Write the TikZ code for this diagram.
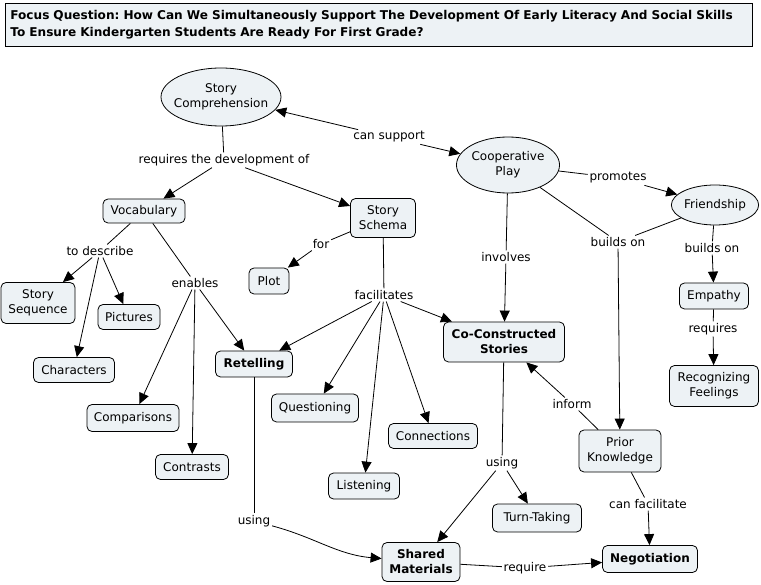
\documentclass[tikz,border=0pt]{standalone}
\usepackage{fontspec}
\setmainfont{DejaVu Sans}
\usetikzlibrary{positioning,arrows.meta,shapes.geometric}
\definecolor{cfill}{HTML}{EDF2F5}
\definecolor{ink}{HTML}{000000}
\frenchspacing

\begin{document}
\begin{tikzpicture}[x=1pt, y=-1pt, >={Triangle[length=11pt,width=10pt]},
    font=\fontsize{12}{15}\selectfont, line width=0.8pt, draw=ink,
    concept/.style={draw, fill=cfill, rounded corners=5pt, align=center, inner sep=2pt},
    oval/.style={draw, fill=cfill, ellipse, align=center, inner sep=0pt},
    key/.style={concept, font=\fontsize{12}{15}\selectfont\bfseries},
    link/.style={inner sep=1.5pt}]
  \useasboundingbox (0,0) rectangle (761,585);
  % focus question
  \node[draw, fill=cfill, anchor=north west, minimum width=747pt, minimum height=43pt,
    text width=737pt, inner sep=5pt, align=left,
    font=\fontsize{12.1}{17}\selectfont\bfseries] (focus) at (5,3)
    {Focus Question: How Can We Simultaneously Support The Development Of Early Literacy And Social Skills\\
     To Ensure Kindergarten Students Are Ready For First Grade?};
  % concepts
  \node[oval, inner xsep=-5pt, minimum width=120, minimum height=58] (storycomp) at (221,97) {Story\\Comprehension};
  \node[oval, minimum width=100, minimum height=56] (coop) at (508,165) {Cooperative\\Play};
  \node[oval, minimum width=81, minimum height=40] (friend) at (715,205) {Friendship};
  \node[concept, minimum width=82, minimum height=24] (vocab) at (144,211) {Vocabulary};
  \node[concept, minimum width=65, minimum height=39] (schema) at (383,218) {Story\\Schema};
  \node[concept, minimum width=40, minimum height=26] (plot) at (269,281) {Plot};
  \node[concept, minimum width=74, minimum height=41] (sequence) at (38,303) {Story\\Sequence};
  \node[concept, minimum width=62, minimum height=25] (pictures) at (129,317) {Pictures};
  \node[concept, minimum width=81, minimum height=25] (characters) at (74,370) {Characters};
  \node[concept, minimum width=92, minimum height=27] (compare) at (133,418) {Comparisons};
  \node[concept, minimum width=73, minimum height=25] (contrast) at (192,467) {Contrasts};
  \node[key, minimum width=77, minimum height=26] (retell) at (254,364) {Retelling};
  \node[concept, minimum width=87, minimum height=28] (question) at (315,408) {Questioning};
  \node[concept, minimum width=89, minimum height=25] (connect) at (433,436) {Connections};
  \node[concept, minimum width=71, minimum height=26] (listen) at (364,486) {Listening};
  \node[key, minimum width=121, minimum height=40] (costories) at (504,342) {Co-Constructed\\Stories};
  \node[concept, minimum width=69, minimum height=26] (empathy) at (714,296) {Empathy};
  \node[concept, minimum width=89, minimum height=41] (feelings) at (714,386) {Recognizing\\Feelings};
  \node[concept, minimum width=82, minimum height=42] (prior) at (620,451) {Prior\\Knowledge};
  \node[concept, minimum width=89, minimum height=28] (turns) at (537,518) {Turn-Taking};
  \node[key, minimum width=95, minimum height=27] (negot) at (650,559) {Negotiation};
  \node[key, minimum width=78, minimum height=39] (shared) at (421,562) {Shared\\Materials};
  % linking phrases
  \node[link] (cansupport) at (389,137) {can support};
  \node[link] (requires) at (224,160) {requires the development of};
  \node[link] (promotes) at (618,178) {promotes};
  \node[link] (buildsA) at (618,242) {builds on};
  \node[link] (buildsB) at (712,248) {builds on};
  \node[link] (involves) at (506,257) {involves};
  \node[link] (forlbl) at (321,244) {for};
  \node[link] (describe) at (100,251) {to describe};
  \node[link] (enables) at (195,283) {enables};
  \node[link] (facil) at (384,295) {facilitates};
  \node[link] (inform) at (572,404) {inform};
  \node[link] (usingA) at (502,463) {using};
  \node[link] (usingB) at (254,521) {using};
  \node[link] (canfacil) at (648,504) {can facilitate};
  \node[link] (require) at (525,568) {require};
  \node[link] (reqB) at (713,329) {requires};
  % connectors
  \draw (storycomp) -- (requires);
  \draw[->] (requires) -- (vocab);
  \draw[->] (requires) -- (schema);
  \draw[->] (cansupport) -- (storycomp);
  \draw[->] (cansupport) -- (coop);
  \draw (coop) -- (promotes);
  \draw[->] (promotes) -- (friend);
  \draw (coop) -- (buildsA);
  \draw (friend) -- (buildsA);
  \draw[->] (buildsA) -- (prior);
  \draw (friend) -- (buildsB);
  \draw[->] (buildsB) -- (empathy);
  \draw (empathy) -- (reqB);
  \draw[->] (reqB) -- (feelings);
  \draw (coop) -- (involves);
  \draw[->] (involves) -- (costories);
  \draw (schema) -- (forlbl);
  \draw[->] (forlbl) -- (plot);
  \draw (schema) -- (facil);
  \foreach \t in {retell,question,listen,connect,costories}
    \draw[->] (facil) -- (\t);
  \draw (vocab) -- (describe);
  \foreach \t in {sequence,characters,pictures}
    \draw[->] (describe) -- (\t);
  \draw (vocab) -- (enables);
  \foreach \t in {compare,contrast,retell}
    \draw[->] (enables) -- (\t);
  \draw (costories) -- (usingA);
  \draw[->] (usingA) -- (shared);
  \draw[->] (usingA) -- (turns);
  \draw (retell) -- (usingB);
  \draw[->] (usingB) to[out=-15, in=175] (shared);
  \draw (prior) -- (inform);
  \draw[->] (inform) -- (costories);
  \draw (prior) -- (canfacil);
  \draw[->] (canfacil) -- (negot);
  \draw (shared) -- (require);
  \draw[->] (require) -- (negot);
\end{tikzpicture}
\end{document}
